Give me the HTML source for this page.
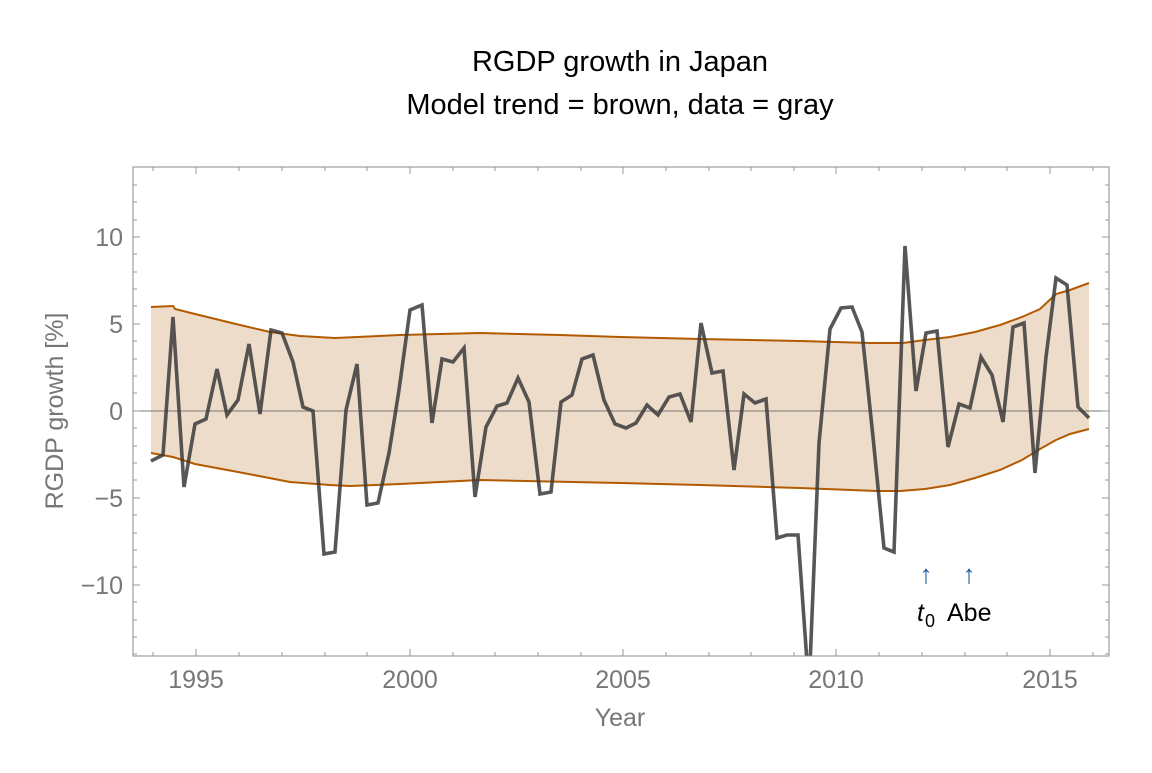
<!DOCTYPE html>
<html><head><meta charset="utf-8"><style>body{margin:0;background:#fff}svg{display:block}</style></head><body>
<svg width="1152" height="773" xmlns="http://www.w3.org/2000/svg" font-family="Liberation Sans, sans-serif">
<rect width="1152" height="773" fill="#fff"/>
<text x="620" y="71" font-size="29" text-anchor="middle">RGDP growth in Japan</text>
<text x="620" y="114" font-size="29" text-anchor="middle">Model trend = brown, data = gray</text>
<defs><clipPath id="c"><rect x="133" y="167" width="976" height="489"/></clipPath></defs>
<g clip-path="url(#c)">
<polygon fill="#eedccb" points="151,307 173,306 175,309 195,314 240,325 270,332 300,336 335,338 400,335 480,333 560,335 620,337 700,339 800,341 870,343 903,343 925,340 950,337 975,332 1000,325 1022,317 1040,309 1056,294 1070,290 1089,283 1089,429 1070,434 1056,440 1040,449 1022,460 1000,470 975,478 950,485 925,489 900,491 877,491 800,488 700,485 620,483 480,480 400,484 350,486 330,485 290,482 238,472 195,464 173,457 151,453"/>
<polyline fill="none" stroke="#b35a00" stroke-width="2" points="151,307 173,306 175,309 195,314 240,325 270,332 300,336 335,338 400,335 480,333 560,335 620,337 700,339 800,341 870,343 903,343 925,340 950,337 975,332 1000,325 1022,317 1040,309 1056,294 1070,290 1089,283"/>
<polyline fill="none" stroke="#b35a00" stroke-width="2" points="151,453 173,457 195,464 238,472 290,482 330,485 350,486 400,484 480,480 620,483 700,485 800,488 877,491 900,491 925,489 950,485 975,478 1000,470 1022,460 1040,449 1056,440 1070,434 1089,429"/>
<line x1="133" y1="411" x2="1109" y2="411" stroke="#777" stroke-width="1"/>
<polyline fill="none" stroke="#3a3a3a" stroke-opacity="0.85" stroke-width="3.6" stroke-linejoin="miter" points="151,461 163,455 173,317 184,487 195,424 206,419 217,369 227,415 238,400 249,344 260,414 271,330 282,333 293,362 303,407 313,411 324,554 335,552 346,410 357,364 367,505 378,503 389,453 399,390 410,310 422,305 432,423 442,359 453,362 464,348 475,497 486,427 497,406 507,403 518,378 529,402 540,494 551,492 561,402 572,395 582,359 593,355 604,400 615,424 626,428 636,423 647,405 658,415 669,397 680,394 691,422 701,323 712,373 723,371 734,470 744,394 755,403 766,399 777,538 787,535 798,535 809,690 819,443 830,329 841,308 852,307 862,332 873,437 884,548 894,552 905,246 916,391 926,333 937,331 948,447 959,404 970,408 981,357 992,375 1003,422 1013,327 1024,323 1035,473 1046,357 1056,278 1067,285 1078,407 1089,418"/>
</g>
<rect x="133" y="167" width="976" height="489" fill="none" stroke="#888" stroke-width="1"/>
<g stroke="#999" stroke-width="1">
<path d="M133 237h7M133 324h7M133 411h7M133 498h7M133 585h7M1109 237h-7M1109 324h-7M1109 411h-7M1109 498h-7M1109 585h-7"/>
<path d="M133 185h4M133 202h4M133 220h4M133 254h4M133 272h4M133 289h4M133 306h4M133 341h4M133 359h4M133 376h4M133 393h4M133 428h4M133 446h4M133 463h4M133 480h4M133 515h4M133 533h4M133 550h4M133 567h4M133 602h4M133 620h4M133 637h4M133 654h4"/>
<path d="M1109 185h-4M1109 202h-4M1109 220h-4M1109 254h-4M1109 272h-4M1109 289h-4M1109 306h-4M1109 341h-4M1109 359h-4M1109 376h-4M1109 393h-4M1109 428h-4M1109 446h-4M1109 463h-4M1109 480h-4M1109 515h-4M1109 533h-4M1109 550h-4M1109 567h-4M1109 602h-4M1109 620h-4M1109 637h-4M1109 654h-4"/>
<path d="M196 656v-7M410 656v-7M623 656v-7M836 656v-7M1050 656v-7M196 167v7M410 167v7M623 167v7M836 167v7M1050 167v7"/>
<path d="M153 656v-4M239 656v-4M282 656v-4M325 656v-4M367 656v-4M453 656v-4M495 656v-4M538 656v-4M581 656v-4M666 656v-4M709 656v-4M751 656v-4M794 656v-4M879 656v-4M922 656v-4M965 656v-4M1007 656v-4M1093 656v-4"/>
<path d="M153 167v4M239 167v4M282 167v4M325 167v4M367 167v4M453 167v4M495 167v4M538 167v4M581 167v4M666 167v4M709 167v4M751 167v4M794 167v4M879 167v4M922 167v4M965 167v4M1007 167v4M1093 167v4"/>
</g>
<g fill="#777" font-size="25">
<text x="123" y="246" text-anchor="end">10</text>
<text x="123" y="333" text-anchor="end">5</text>
<text x="123" y="420" text-anchor="end">0</text>
<text x="123" y="507" text-anchor="end">−5</text>
<text x="123" y="594" text-anchor="end">−10</text>
<g text-anchor="middle">
<text x="196" y="688">1995</text><text x="410" y="688">2000</text><text x="623" y="688">2005</text><text x="836" y="688">2010</text><text x="1050" y="688">2015</text>
<text x="620" y="726">Year</text>
</g>
<text transform="translate(63,411) rotate(-90)" text-anchor="middle">RGDP growth [%]</text>
</g>
<g font-size="26" fill="#1a5a9a" text-anchor="middle"><text x="926" y="583">↑</text><text x="969" y="583">↑</text></g>
<text x="917" y="621" font-size="25" font-style="italic">t</text><text x="925" y="627" font-size="18">0</text>
<text x="947" y="621" font-size="25">Abe</text>
</svg>
</body></html>
